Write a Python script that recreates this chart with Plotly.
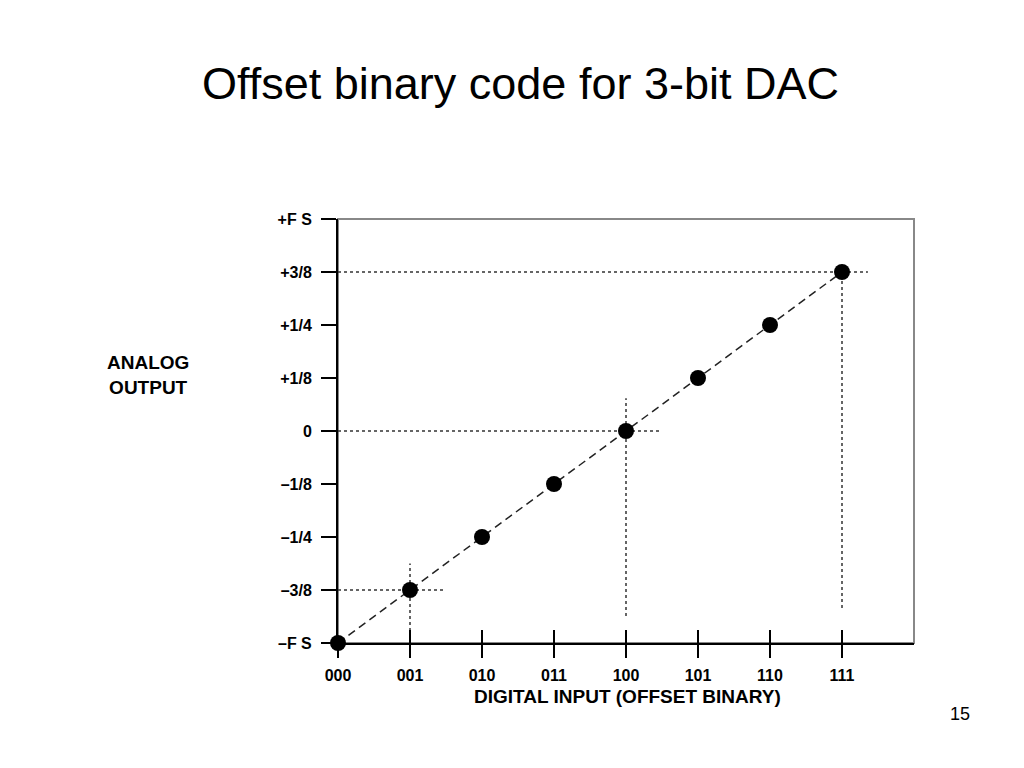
import plotly.graph_objects as go

# digital codes and analog outputs (in eighths of full scale)
codes = ["000", "001", "010", "011", "100", "101", "110", "111"]
x_vals = [0, 1, 2, 3, 4, 5, 6, 7]
y_vals = [-4, -3, -2, -1, 0, 1, 2, 3]
y_ticks = [-4, -3, -2, -1, 0, 1, 2, 3, 4]
y_labels = ["\u2013F S", "\u20133/8", "\u20131/4", "\u20131/8", "0", "+1/8", "+1/4", "+3/8", "+F S"]

# guide lines: (x0, y0, x1, y1)
guides = [
    (0, -3, 1.46, -3), (0, 0, 4.5, 0), (0, 3, 7.36, 3),
    (1, -4, 1, -2.5), (4, -3.49, 4, 0.62), (7, -3.34, 7, 3.1),
]

fig = go.Figure()
for x0, y0, x1, y1 in guides:
    fig.add_trace(go.Scatter(x=[x0, x1], y=[y0, y1], mode="lines",
                             line=dict(color="#333", width=1.5, dash="3px,3px"),
                             showlegend=False, hoverinfo="skip"))
fig.add_trace(go.Scatter(x=x_vals, y=y_vals, mode="lines+markers",
                         line=dict(color="#222", width=1.5, dash="8px,5px"),
                         marker=dict(color="black", size=16),
                         cliponaxis=False, showlegend=False))
# overlay axis for inside tick halves
fig.add_trace(go.Scatter(x=[0], y=[-4], xaxis="x2", mode="markers",
                         marker=dict(opacity=0), showlegend=False, hoverinfo="skip"))

bold = dict(family="Liberation Sans, Arial", size=16, color="black")
fig.update_layout(
    width=1024, height=768, paper_bgcolor="white", plot_bgcolor="white",
    margin=dict(l=330, r=118, t=211, b=133),
    font=dict(family="Liberation Sans, Arial"),
    xaxis=dict(range=[0, 8], tickvals=x_vals, ticktext=["<b>%s</b>" % c for c in codes],
               ticks="outside", ticklen=13, tickwidth=2, tickcolor="black",
               ticklabelstandoff=4, automargin=False,
               showline=True, linecolor="black", linewidth=2, showgrid=False,
               zeroline=False, tickfont=bold),
    xaxis2=dict(range=[0, 8], overlaying="x", side="bottom", tickvals=x_vals,
                showticklabels=False, ticks="inside", ticklen=13, tickwidth=2,
                tickcolor="black", showgrid=False, zeroline=False, showline=False),
    yaxis=dict(range=[-4, 4], tickvals=y_ticks, ticktext=["<b>%s</b>" % t for t in y_labels],
               ticks="outside", ticklen=15, tickwidth=1.5, tickcolor="black",
               automargin=False, ticklabelstandoff=6,
               showline=True, linecolor="black", linewidth=2, showgrid=False,
               zeroline=False, tickfont=bold),
    shapes=[dict(type="rect", xref="paper", yref="paper", x0=0, y0=0, x1=1, y1=1,
                 line=dict(color="#888", width=2), layer="below")],
    annotations=[
        dict(text="Offset binary code for 3-bit DAC", xref="paper", yref="paper",
             x=0.316, y=1.0, yshift=136, xanchor="center", yanchor="middle",
             showarrow=False, font=dict(size=45, color="black")),
        dict(text="<b>ANALOG<br>OUTPUT</b>", xref="paper", yref="paper",
             x=-0.33, y=0.5, yshift=56, xanchor="center", showarrow=False,
             font=dict(size=19, color="black")),
        dict(text="<b>DIGITAL INPUT (OFFSET BINARY)</b>", xref="paper", yref="paper",
             x=0.503, y=0, yshift=-53, xanchor="center", yanchor="middle", showarrow=False,
             font=dict(size=19, color="black")),
        dict(text="15", xref="paper", yref="paper", x=1.0, y=0, xshift=46, yshift=-83,
             xanchor="center", showarrow=False, font=dict(size=18, color="black")),
    ],
)
fig.write_html("out.html")
